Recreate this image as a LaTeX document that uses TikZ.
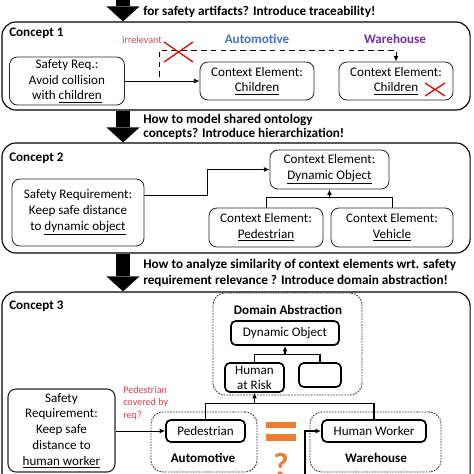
\documentclass[tikz,border=0pt]{standalone}
\usepackage{fontspec}
\setmainfont{Carlito}
\usetikzlibrary{arrows.meta,positioning,calc}

\definecolor{autoblue}{RGB}{68,114,196}
\definecolor{whpurple}{RGB}{112,48,160}
\definecolor{hintred}{RGB}{222,62,74}
\definecolor{eqorange}{RGB}{237,125,49}

\tikzset{
  frame/.style={draw=black, rounded corners=0.35cm, line width=0.8pt},
  box/.style={draw=black!85, rounded corners=0.2cm, line width=0.6pt, align=center, inner sep=1pt},
  tbox/.style={draw=black, rounded corners=0.12cm, line width=1.2pt, align=center, inner sep=1pt},
  domframe/.style={draw=black!80, rounded corners=0.3cm, line width=0.6pt, dash pattern=on 1.2pt off 0.8pt},
  title/.style={font=\fontsize{9.3pt}{11pt}\selectfont\bfseries, inner sep=0pt},
  question/.style={font=\fontsize{9.4pt}{10pt}\selectfont\bfseries, align=left, anchor=west, inner sep=0pt},
  hint/.style={text=hintred, font=\fontsize{7.2pt}{8.9pt}\selectfont, align=left, inner sep=0pt},
  bigarrow/.style={line width=0.35cm, -{Triangle[length=0.375cm, width=0.825cm, line width=0pt]}},
  link/.style={line width=0.7pt, -{Latex[length=4pt, width=3.5pt]}},
  cross/.style={draw=red!90!black, line width=0.9pt}
}

\begin{document}
\begin{tikzpicture}[x=0.025cm, y=-0.025cm, font=\fontsize{9.3pt}{11.2pt}\selectfont]
    \useasboundingbox (0,0) rectangle (474,474);
    \clip (0,0) rectangle (474,474);

    % concept 1
    \node (c1) [frame, minimum width=11.7cm, minimum height=2.2cm] at (236,66) {};
    \node (c1lbl) [title, anchor=west] at (9,33) {Concept 1};
    \node (auto1) [title, text=autoblue] at (257,39) {Automotive};
    \node (wh1) [title, text=whpurple] at (395,39) {Warehouse};
    \node (sr1) [box, minimum width=2.875cm, minimum height=1.2cm] at (67,81) {Safety Req.:\\Avoid collision\\with \underline{children}};
    \node (ce1a) [box, minimum width=2.85cm, minimum height=0.95cm] at (257,81) {Context Element:\\\underline{Children}};
    \node (ce1b) [box, minimum width=2.85cm, minimum height=0.95cm] at (396,81) {Context Element:\\\underline{Children}};
    \node (irr) [hint, anchor=east] at (162,40) {irrelevant};
    \coordinate (tap) at (159,77);
    \draw [link] (sr1) -- (ce1a);
    \draw [link, dash pattern=on 4pt off 3pt] (tap) -- ++(0,-27) -| (ce1b.north);
    \draw [cross] (164,42) -- (193,62) (164,62) -- (193,42);
    \draw [cross] (425,83) -- (445,96) (425,96) -- (445,83);

    \coordinate (in1) at (123,-10);
    \draw [bigarrow] (in1) -- (in1 |- c1.north);
    \node (q1) [question] at (143,12) {for safety artifacts? Introduce traceability!};

    % concept 2
    \node (c2) [frame, minimum width=11.7cm, minimum height=2.75cm] at (236,198) {};
    \draw [bigarrow] (c1.south -| in1) -- (c2.north -| in1);
    \node (q2) [question] at (143,127) {How to model shared ontology\\concepts? Introduce hierarchization!};
    \node (c2lbl) [title, anchor=west] at (9,158) {Concept 2};
    \node (do2) [box, minimum width=2.975cm, minimum height=0.975cm] at (329.5,169.5) {Context Element:\\\underline{Dynamic Object}};
    \node (sr2) [box, minimum width=3.3cm, minimum height=1.675cm] at (78,212.5) {Safety Requirement:\\Keep safe distance\\to \underline{dynamic object}};
    \node (ped2) [box, minimum width=2.85cm, minimum height=0.975cm] at (266,227.5) {Context Element:\\\underline{Pedestrian}};
    \node (veh2) [box, minimum width=3.05cm, minimum height=0.975cm] at (392,227.5) {Context Element:\\\underline{Vehicle}};
    \draw [link] ($(sr2.north east)!.25!(sr2.south east)$) -- ++(63,0) |- (do2.west);
    \draw [line width=0.7pt] (ped2.north) -- ++(0,-10) -| (veh2.north);
    \draw [link] (do2.south |- ped2.north) ++(0,-10) -- (do2.south);

    % concept 3
    \node (c3) [frame, minimum width=11.7cm, minimum height=5.2cm] at (236,396) {};
    \draw [bigarrow] (c2.south -| in1) -- (c3.north -| in1);
    \node (q3) [question, font=\fontsize{9.4pt}{11.2pt}\selectfont\bfseries] at (143,273) {How to analyze similarity of context elements wrt. safety\\requirement relevance ? Introduce domain abstraction!};
    \node (c3lbl) [title, anchor=west] at (9,306) {Concept 3};

    \node (da) [domframe, minimum width=3.725cm, minimum height=2.55cm] at (287.5,344) {};
    \node (dalbl) [title] at (288,310) {Domain Abstraction};
    \node (do3) [tbox, minimum width=2.7cm, minimum height=0.6cm] at (285,333) {Dynamic Object};
    \node (har) [tbox, minimum width=1.475cm, minimum height=0.725cm, font=\fontsize{9.3pt}{10.5pt}\selectfont] at (254.5,377.5) {Human\\at Risk};
    \node (eb) [tbox, minimum width=1.05cm, minimum height=0.6cm] at (320,375) {};
    \draw [line width=0.9pt] (har.north) -- ++(0,-8) -| (eb.north);
    \draw [link, line width=0.9pt] (do3.south |- har.north) ++(0,-8) -- (do3.south);

    \node (sr3) [box, line width=0.8pt, minimum width=2.675cm, minimum height=2.075cm] at (61.5,430.5) {Safety\\Requirement:\\Keep safe\\distance to\\\underline{human worker}};
    \node (hint3) [hint, anchor=north west] at (123,386) {Pedestrian\\covered by\\req?};

    \node (auto3) [domframe, minimum width=2.65cm, minimum height=1.5cm] at (204,442) {};
    \node (ped3) [tbox, minimum width=1.975cm, minimum height=0.55cm] at (205.5,431) {Pedestrian};
    \node (auto3lbl) [title] at (203,458) {Automotive};
    \node (wh3) [domframe, minimum width=3.275cm, minimum height=1.5cm] at (375.5,442) {};
    \node (hw3) [tbox, minimum width=2.6cm, minimum height=0.55cm] at (374,431) {Human Worker};
    \node (wh3lbl) [title] at (376,458) {Warehouse};

    \draw [link] (sr3.east |- ped3.west) -- (ped3.west);
    \draw [line width=0.9pt] (ped3.north) -- ++(0,-16) -| (hw3.north);
    \draw [link, line width=0.9pt] (har.south |- ped3.north) ++(0,-16) -- (har.south);
    \coordinate (fromlow) at (305,490);
    \draw [link, line width=0.9pt] (fromlow) |- (hw3.west);

    \fill [eqorange] (266,422) rectangle (296,428);
    \fill [eqorange] (266,434) rectangle (296,441);
    \node (qm) [text=eqorange, font=\fontsize{24pt}{24pt}\selectfont\bfseries, inner sep=0pt, anchor=base] at (281,476) {?};
\end{tikzpicture}
\end{document}
